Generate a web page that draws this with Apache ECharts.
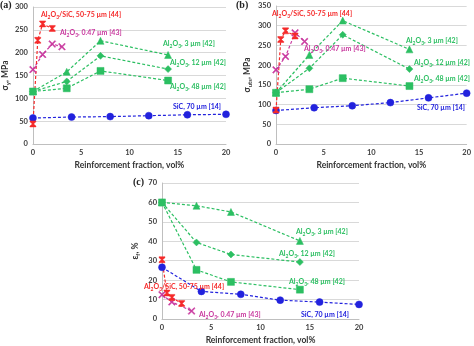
<!DOCTYPE html>
<html><head><meta charset="utf-8">
<script src="https://cdn.jsdelivr.net/npm/echarts@6/dist/echarts.min.js"></script>
<style>html,body{margin:0;padding:0;background:#fff}#c{width:474px;height:346px}</style>
</head><body><div id="c"></div>
<script>
// ---- data ----
const redX = [0, 0.5, 1, 2];
const redA = [44, 227, 263, 253];
const redB = [86, 265, 287, 274];
const redC = [30.5, 13.4, 11.1, 8.0];
const magX = [0, 1, 2, 3];
const magA = [163, 196, 219, 213];
const magB = [188, 222, 282, 260];
const magXC = [0, 1, 3];
const magC = [12.5, 8.8, 4.1];
const grnX = [0, 3.5, 7, 14];
const triA = [115, 158, 226, 195];
const diaA = [115, 137, 193, 164];
const sqA = [115, 122, 160, 139];
const triB = [130, 226, 313, 240];
const diaB = [130, 192, 277, 190];
const sqB = [130, 139, 167, 147];
const triC = [60, 58.3, 55.1, 40.2];
const diaC = [60, 39.4, 33.2, 29.3];
const sqC = [60, 25.3, 19.1, 15.1];
const sicX = [0, 4, 8, 12, 16, 20];
const sicA = [57, 59, 60, 62, 64, 65];
const sicB = [85, 92, 97, 105, 117, 129];
const sicC = [26.6, 14.2, 12.7, 9.7, 8.7, 7.5];
const xName = 'Reinforcement fraction, vol%';
const lblRed = 'Al{s|2}O{s|3}/SiC, 50-75 µm [44]';
const lblMag = 'Al{s|2}O{s|3}, 0.47 µm [43]';
const lbl3 = 'Al{s|2}O{s|3}, 3 µm [42]';
const lbl12 = 'Al{s|2}O{s|3}, 12 µm [42]';
const lbl48 = 'Al{s|2}O{s|3}, 48 µm [42]';
const lblSiC = 'SiC, 70 µm [14]';

// ---- styles ----
const FONT = 'Lato, "Liberation Sans", sans-serif';
const RED = '#f52a2a', MAG = '#c8389e', GRN = '#2cbf62', BLU = '#2222dd';
const hourglass = 'path://M0,0 L10,0 L10,1.5 L6,5 L10,8.5 L10,10 L0,10 L0,8.5 L4,5 L0,1.5 Z';
const cross = 'path://M0,1.2 L1.2,0 L5,3.8 L8.8,0 L10,1.2 L6.2,5 L10,8.8 L8.8,10 L5,6.2 L1.2,10 L0,8.8 L3.8,5 Z';
const zip = (xs, ys) => xs.map((x, i) => [x, ys[i]]);

function ser(idx, xs, ys, color, symbol, size) {
  return {
    type: 'line', xAxisIndex: idx, yAxisIndex: idx, data: zip(xs, ys),
    symbol: symbol, symbolSize: size, showAllSymbol: true,
    lineStyle: { color: color, width: 1.2, type: [3, 2] },
    itemStyle: { color: color, borderColor: color, borderWidth: 0.5 },
    z: 3, animation: false
  };
}
const richSub = (size) => ({ s: { fontSize: size * 0.72, fontFamily: FONT, fontWeight: 'bold', verticalAlign: 'bottom', lineHeight: size * 0.7 } });
function lbl(x, y, text, color) {
  return {
    type: 'text', left: x, top: y - 5, z: 10,
    style: {
      text: text, fill: color, font: 'bold 7px ' + FONT, fontSize: 7, fontWeight: 'bold', fontFamily: FONT,
      lineHeight: 10, rich: Object.assign({}, richSub(7)), textVerticalAlign: 'top'
    }
  };
}
function yAx(idx, max, interval, nameParts, gap) {
  return {
    gridIndex: idx, type: 'value', min: 0, max: max, interval: interval,
    name: nameParts, nameLocation: 'middle', nameGap: gap, nameRotate: 90,
    nameTextStyle: { fontFamily: FONT, fontWeight: 'bold', fontSize: 8.5, color: '#333',
      rich: { n: { fontFamily: FONT, fontWeight: 'bold', fontSize: 8.5, color: '#333', lineHeight: 11 },
              s: { fontFamily: FONT, fontWeight: 'bold', fontSize: 6, color: '#333', verticalAlign: 'bottom', lineHeight: 6 } } },
    axisLine: { show: true, lineStyle: { color: '#bfbfbf', width: 1 } },
    axisTick: { show: false },
    axisLabel: { fontFamily: FONT, fontWeight: 'bold', fontSize: 7.5, color: '#404040', margin: 5 },
    splitLine: { show: true, lineStyle: { color: '#d9d9d9', width: 1 } }
  };
}
function xAx(idx, gap) {
  return {
    gridIndex: idx, type: 'value', min: 0, max: 20, interval: 5,
    name: xName, nameLocation: 'middle', nameGap: gap,
    nameTextStyle: { fontFamily: FONT, fontWeight: 'bold', fontSize: 8.5, color: '#333' },
    axisLine: { show: true, lineStyle: { color: '#bfbfbf', width: 1 } },
    axisTick: { show: false },
    axisLabel: { fontFamily: FONT, fontWeight: 'bold', fontSize: 7.5, color: '#404040', margin: 5 },
    splitLine: { show: false }
  };
}

const chart = echarts.init(document.getElementById('c'), null, { renderer: 'canvas' });
chart.setOption({
  backgroundColor: '#fff',
  animation: false,
  grid: [
    { left: 32, top: 7, width: 194, height: 137 },
    { left: 276, top: 6, width: 193, height: 138 },
    { left: 162, top: 183, width: 197, height: 139 }
  ],
  xAxis: [xAx(0, 17), xAx(1, 17), xAx(2, 17)],
  yAxis: [
    yAx(0, 300, 50, '{n|σ}{s|y}{n|, MPa}', 21),
    yAx(1, 350, 50, '{n|σ}{s|uts}{n|, MPa}', 23),
    yAx(2, 70, 10, '{n|ε}{s|f}{n|, %}', 21)
  ],
  series: [
    ser(0, sicX, sicA, BLU, 'circle', 7),
    ser(0, grnX, sqA, GRN, 'rect', 7),
    ser(0, grnX, diaA, GRN, 'diamond', 7),
    ser(0, grnX, triA, GRN, 'triangle', 7),
    ser(0, magX, magA, MAG, cross, 7),
    ser(0, redX, redA, RED, hourglass, 6),
    ser(1, sicX, sicB, BLU, 'circle', 7),
    ser(1, grnX, sqB, GRN, 'rect', 7),
    ser(1, grnX, diaB, GRN, 'diamond', 7),
    ser(1, grnX, triB, GRN, 'triangle', 7),
    ser(1, magX, magB, MAG, cross, 7),
    ser(1, redX, redB, RED, hourglass, 6),
    ser(2, sicX, sicC, BLU, 'circle', 7),
    ser(2, grnX, sqC, GRN, 'rect', 7),
    ser(2, grnX, diaC, GRN, 'diamond', 7),
    ser(2, grnX, triC, GRN, 'triangle', 7),
    ser(2, magXC, magC, MAG, cross, 7),
    ser(2, redX, redC, RED, hourglass, 6)
  ],
  graphic: [
    { type: 'text', left: 0, top: 0, style: { text: '(a)', font: 'bold 10px "Liberation Serif", serif', fill: '#222' } },
    { type: 'text', left: 236, top: 0, style: { text: '(b)', font: 'bold 10px "Liberation Serif", serif', fill: '#222' } },
    { type: 'text', left: 133, top: 177, style: { text: '(c)', font: 'bold 10px "Liberation Serif", serif', fill: '#222' } },
    lbl(41, 15, lblRed, RED), lbl(60, 33, lblMag, MAG), lbl(163, 44, lbl3, GRN),
    lbl(170, 63, lbl12, GRN), lbl(170, 87, lbl48, GRN), lbl(173, 107, lblSiC, BLU),
    lbl(272, 14, lblRed, RED), lbl(304, 49, lblMag, MAG), lbl(406, 41, lbl3, GRN),
    lbl(414, 63, lbl12, GRN), lbl(414, 79, lbl48, GRN), lbl(417, 108, lblSiC, BLU),
    lbl(296, 232, lbl3, GRN), lbl(279, 254, lbl12, GRN), lbl(289, 282, lbl48, GRN),
    lbl(144, 287, lblRed, RED), lbl(199, 315, lblMag, MAG), lbl(301, 315, lblSiC, BLU)
  ]
});
</script></body></html>
